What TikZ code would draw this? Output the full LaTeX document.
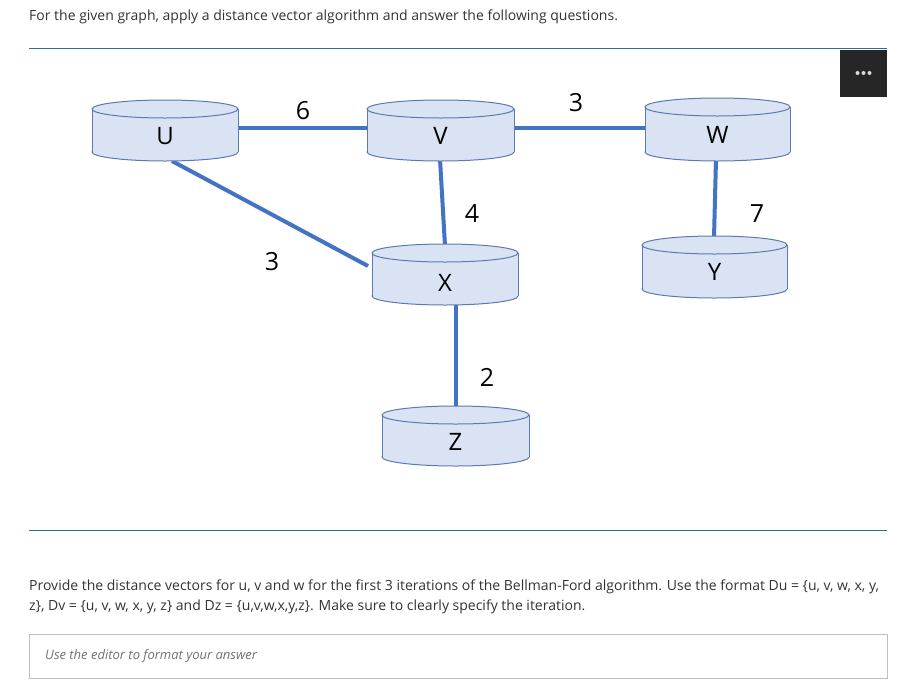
\documentclass[tikz,border=0pt]{standalone}
\usepackage{fontspec}
\setmainfont{Open Sans}
\definecolor{edge}{HTML}{4472C4}
\definecolor{cylfill}{HTML}{DAE3F3}
\definecolor{cylline}{HTML}{5B7AB0}
\definecolor{rule}{HTML}{2E6E8E}
\definecolor{txt}{HTML}{333333}
\tikzset{
  lnk/.style={draw=edge,line width=4pt},
  wlabel/.style={font=\fontsize{25}{25}\selectfont,text=black},
  clabel/.style={font=\fontsize{24}{24}\selectfont,text=black},
  cyl/.style={fill=cylfill,draw=cylline,line width=1pt},
  ptext/.style={anchor=west,inner sep=0pt,font=\fontsize{14}{14}\selectfont,text=txt}
}
\newcommand{\mycyl}[7]{% name, xl, xr, ytopc, ybotc, label, labely
  \pgfmathsetmacro{\cx}{(#2+#3)/2}\pgfmathsetmacro{\rx}{(#3-#2)/2}
  \path[cyl] (\cx,#5) ellipse[x radius=\rx,y radius=9];
  \fill[cylfill] (#2,#4) rectangle (#3,#5);
  \draw[cylline,line width=1pt] (#2,#4) -- (#2,#5) (#3,#4) -- (#3,#5);
  \path[cyl] (\cx,#4) ellipse[x radius=\rx,y radius=9];
  \node[clabel] (#1) at (\cx,#7) {#6};
}
\begin{document}
\begin{tikzpicture}[x=1pt,y=-1pt]
\useasboundingbox[fill=white] (0,0) rectangle (910,691);
\node[ptext] (title) at (29,17) {For the given graph, apply a distance vector algorithm and answer the following questions.};
\draw[rule,line width=1pt] (29,48) -- (887,48);
\draw[rule,line width=1pt] (29,530) -- (887,530);
\node[fill=black!85,minimum width=47pt,minimum height=47pt,inner sep=0pt] (more) at (863.5,73.5) {};
\foreach \dx in {-6,0,6} \fill[white!85!black] (863.5+\dx,73) circle (2);
% edges
\draw[lnk] (238,128) coordinate (u1) -- (367,128) coordinate (v1);
\draw[lnk] (514,128) coordinate (v2) -- (645,128) coordinate (w1);
\draw[lnk] (172,161) coordinate (u2) -- (368,266) coordinate (x1);
\draw[lnk] (440,159) coordinate (v3) -- (445,246) coordinate (x2);
\draw[lnk] (716,159) coordinate (w2) -- (714,238) coordinate (y1);
\draw[lnk] (456,304) coordinate (x3) -- (456,408) coordinate (z1);
\mycyl{U}{92}{238}{109}{152}{U}{136}
\mycyl{V}{367}{514}{109}{152}{V}{136}
\mycyl{W}{645}{790}{107}{152}{W}{135}
\mycyl{X}{372}{518}{253}{296}{X}{283}
\mycyl{Y}{642}{787}{245}{289}{Y}{272}
\mycyl{Z}{382}{529}{415}{457}{Z}{442}
\node[wlabel] (l6) at (303,111) {6};
\node[wlabel] (l3a) at (576,103) {3};
\node[wlabel] (l3b) at (272,262) {3};
\node[wlabel] (l4) at (472,214) {4};
\node[wlabel] (l7) at (757,214) {7};
\node[wlabel] (l2) at (487,377) {2};
\node[ptext] (p1) at (29,587) {Provide the distance vectors for u, v and w for the first 3 iterations of the Bellman-Ford algorithm. Use the format Du = \{u, v, w, x, y,};
\node[ptext] (p2) at (29,607) {z\}, Dv = \{u, v, w, x, y, z\} and Dz = \{u,v,w,x,y,z\}. Make sure to clearly specify the iteration.};
\draw[black!25,line width=1pt] (29,634) rectangle (887,678);
\node[ptext,font=\itshape\fontsize{13}{13}\selectfont,text=black!55] (ed) at (45,656) {Use the editor to format your answer};
\end{tikzpicture}
\end{document}
